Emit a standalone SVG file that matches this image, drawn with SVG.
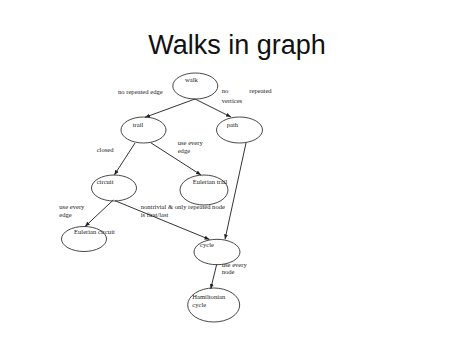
<svg xmlns="http://www.w3.org/2000/svg" width="474" height="355" viewBox="0 0 474 355">
<style>
.n{fill:none;stroke:#333;stroke-width:0.9}
.t{font-family:"Liberation Serif",serif;font-size:6.6px;fill:#222}
.c{stroke:#333;stroke-width:1;fill:none;marker-end:url(#ah)}
.title{font-family:"Liberation Sans",Arial,sans-serif;font-size:27px;fill:#111}
</style>
<defs>
<marker id="ah" viewBox="0 0 10 10" refX="10" refY="5" markerWidth="5" markerHeight="5" orient="auto" markerUnits="userSpaceOnUse">
<path d="M0,1 L10,5 L0,9 z" fill="#222"/>
</marker>
</defs>
<rect width="474" height="355" fill="#fff"/>
<text class="title" x="237" y="53.5" text-anchor="middle">Walks in graph</text>
<g id="connectors">
<line class="c" x1="195" y1="99" x2="145" y2="117.3"/>
<line class="c" x1="195" y1="99" x2="231" y2="117"/>
<line class="c" x1="135" y1="143" x2="114.3" y2="175"/>
<line class="c" x1="150.7" y1="142.7" x2="201" y2="175"/>
<line class="c" x1="246" y1="143" x2="225" y2="239.3"/>
<line class="c" x1="113.3" y1="200" x2="85" y2="226.5"/>
<line class="c" x1="115" y1="200.7" x2="209.5" y2="239.5"/>
<line class="c" x1="216.7" y1="264.3" x2="210.7" y2="289"/>
</g>
<g id="labels">
<text class="t" x="118" y="93.5">no repeated edge</text>
<text class="t" x="221.7" y="93.3">no</text>
<text class="t" x="249.3" y="93.3">repeated</text>
<text class="t" x="221.7" y="102.7">vertices</text>
<text class="t" x="96.7" y="151.7">closed</text>
<text class="t" x="177.7" y="145">use every</text>
<text class="t" x="177.7" y="153.3">edge</text>
<text class="t" x="59.3" y="209">use every</text>
<text class="t" x="59.3" y="216.7">edge</text>
<text class="t" x="140.7" y="209">nontrivial &amp; only repeated node</text>
<text class="t" x="140.7" y="216.5">is first/last</text>
<text class="t" x="221.7" y="266.7">use every</text>
<text class="t" x="221.7" y="274">node</text>
</g>
<g id="walk"><ellipse class="n" cx="195.3" cy="86" rx="22.5" ry="13"/><text class="t" x="185" y="82">walk</text></g>
<g id="trail"><ellipse class="n" cx="143.5" cy="130" rx="22.5" ry="13"/><text class="t" x="132.7" y="127">trail</text></g>
<g id="path"><ellipse class="n" cx="239.5" cy="130" rx="23" ry="13"/><text class="t" x="226.7" y="127">path</text></g>
<g id="circuit"><ellipse class="n" cx="114" cy="188" rx="22.5" ry="13"/><text class="t" x="96.7" y="184">circuit</text></g>
<g id="eulerian-trail"><ellipse class="n" cx="204" cy="190" rx="24" ry="15"/><text class="t" x="192.7" y="184">Eulerian trail</text></g>
<g id="eulerian-circuit"><ellipse class="n" cx="84" cy="239" rx="22.5" ry="12.5"/><text class="t" x="74" y="234">Eulerian circuit</text></g>
<g id="cycle"><ellipse class="n" cx="217" cy="252" rx="23" ry="12.7"/><text class="t" x="200" y="247.3">cycle</text></g>
<g id="hamiltonian-cycle"><ellipse class="n" cx="213.7" cy="305" rx="26" ry="17"/><text class="t" x="192.3" y="299">Hamiltonian</text><text class="t" x="192.3" y="306.7">cycle</text></g>
</svg>
